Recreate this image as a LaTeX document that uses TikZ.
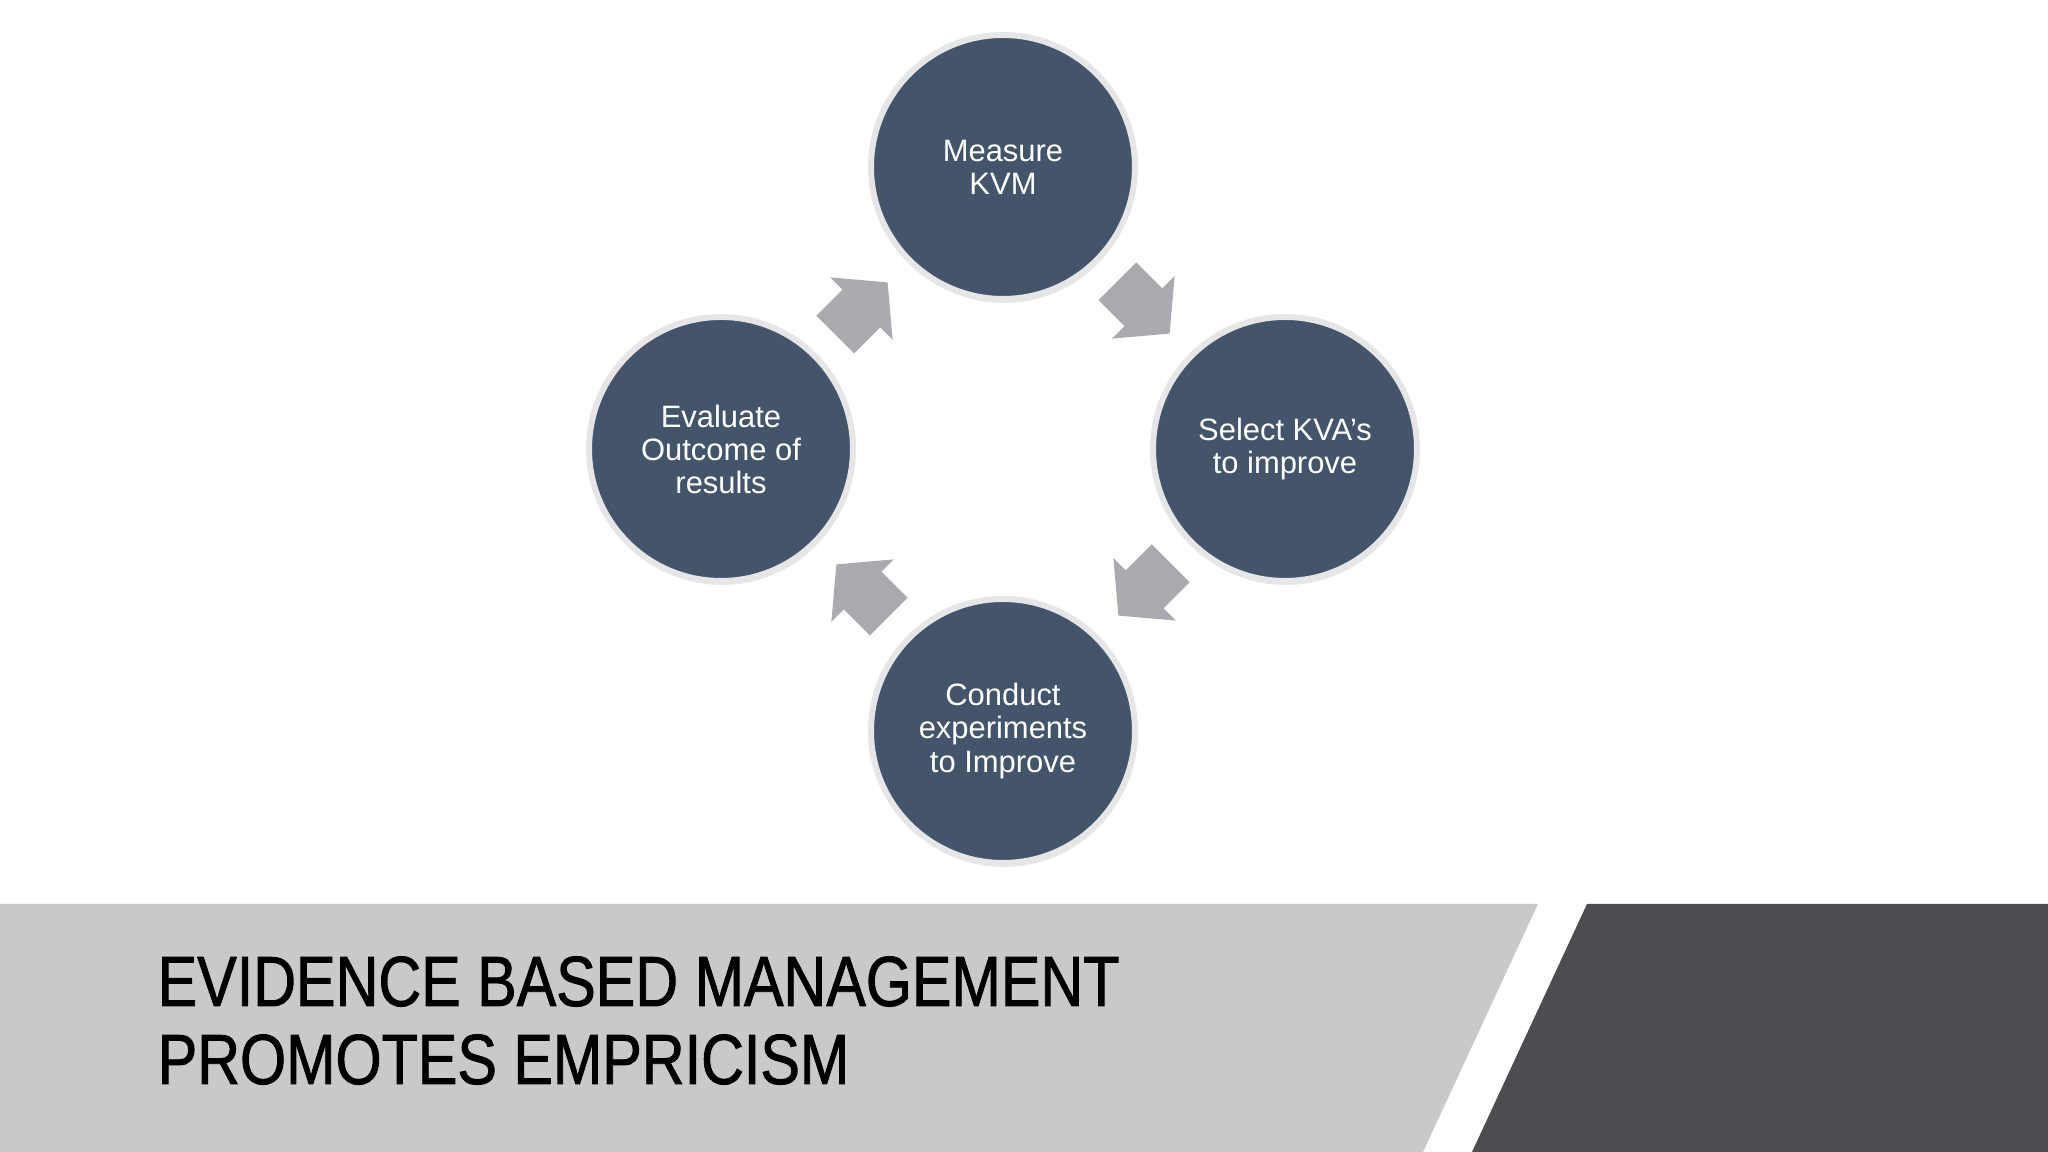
\documentclass[tikz,border=0pt]{standalone}
\usepackage{fontspec}
\setmainfont{Liberation Sans}
\newfontfamily\titlefont[FakeStretch=0.835,FakeBold=1.2]{Liberation Sans}
\usetikzlibrary{calc,shapes.arrows,shadows}

\definecolor{slate}{RGB}{68,84,106}
\definecolor{ring}{RGB}{230,230,232}
\definecolor{arrowgray}{RGB}{170,171,176}
\definecolor{bandlight}{RGB}{201,200,203}
\definecolor{banddark}{RGB}{78,76,80}

\begin{document}
\begin{tikzpicture}[
  stage/.style={circle, draw=ring, line width=0.06cm, fill=slate, minimum size=2.64cm, inner sep=0pt, align=center, text=white, font=\fontsize{8.8}{9.4}\selectfont, drop shadow={shadow xshift=0.01cm, shadow yshift=-0.04cm, opacity=0.18}},
  cyclearrow/.style={single arrow, draw=none, fill=arrowgray, minimum height=0.74cm, inner xsep=0pt, inner ysep=0.26cm, single arrow head extend=0.175cm, single arrow tip angle=100},
  title/.style={anchor=base west, align=left, inner sep=0pt, font=\titlefont\fontsize{20.2}{22.2}\selectfont}
]
\fill[white] (0,0) rectangle (20.48,11.52);
\useasboundingbox (0,0) rectangle (20.48,11.52);

% title band
\fill[bandlight] (0,0) -- (0,2.48) -- (15.38,2.48) -- (14.23,0) -- cycle;
\fill[banddark] (15.87,2.48) -- (20.48,2.48) -- (20.48,0) -- (14.72,0) -- cycle;
\node[title] (heading) at (1.57,0.68) {EVIDENCE BASED MANAGEMENT\\PROMOTES EMPRICISM};

% cycle
\coordinate (hub) at (10.03,7.03);
\node[stage] (measure) at ($(hub)+(0,2.82)$) {Measure\\KVM};
\node[stage] (select) at ($(hub)+(2.82,0)$) {Select KVA's\\to improve};
\node[stage] (conduct) at ($(hub)+(0,-2.82)$) {Conduct\\experiments\\to Improve};
\node[stage] (evaluate) at ($(hub)+(-2.82,0)$) {Evaluate\\Outcome of\\results};

\node[cyclearrow, rotate=-45] (a1) at ($(measure)!0.5!(select)!0.12cm!(measure)$) {};
\node[cyclearrow, rotate=-135] (a2) at ($(select)!0.5!(conduct)!0.12cm!(select)$) {};
\node[cyclearrow, rotate=135] (a3) at ($(conduct)!0.5!(evaluate)!0.12cm!(conduct)$) {};
\node[cyclearrow, rotate=45] (a4) at ($(evaluate)!0.5!(measure)!0.12cm!(evaluate)$) {};

\end{tikzpicture}
\end{document}
